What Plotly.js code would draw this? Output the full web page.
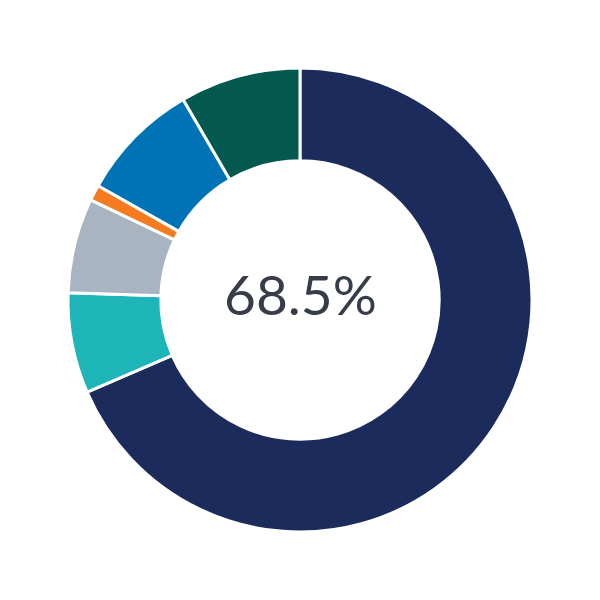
<!DOCTYPE html>
<html>
<head>
<meta charset="utf-8">
<script src="https://cdn.plot.ly/plotly-3.0.1.min.js"></script>
<style>html,body{margin:0;padding:0;background:#fff;}#chart{width:600px;height:600px;}</style>
</head>
<body>
<div id="chart"></div>
<script>
const labels = ["Navy", "Teal", "Gray", "Orange", "Blue", "Dark green"];
const values = [68.5, 7.0, 6.6, 1.1, 8.4, 8.4];
const colors = ["#1b2b5b", "#1db5b8", "#a9b4c2", "#f47b20", "#0073b6", "#03584f"];
const centerText = "68.5%";

Plotly.newPlot("chart", [{
  type: "pie",
  labels: labels,
  values: values,
  hole: 0.6,
  sort: false,
  direction: "clockwise",
  rotation: 0,
  textinfo: "none",
  hoverinfo: "label+percent",
  marker: {colors: colors, line: {color: "#ffffff", width: 3}},
  showlegend: false
}], {
  width: 600, height: 600,
  margin: {l: 68, r: 68, t: 68, b: 68},
  paper_bgcolor: "#ffffff",
  annotations: [{
    text: centerText, x: 0.5, y: 0.5, xref: "paper", yref: "paper",
    showarrow: false, yshift: 6,
    font: {family: "Lato", size: 55, color: "#363c48"}
  }]
}, {staticPlot: true});
</script>
</body>
</html>
